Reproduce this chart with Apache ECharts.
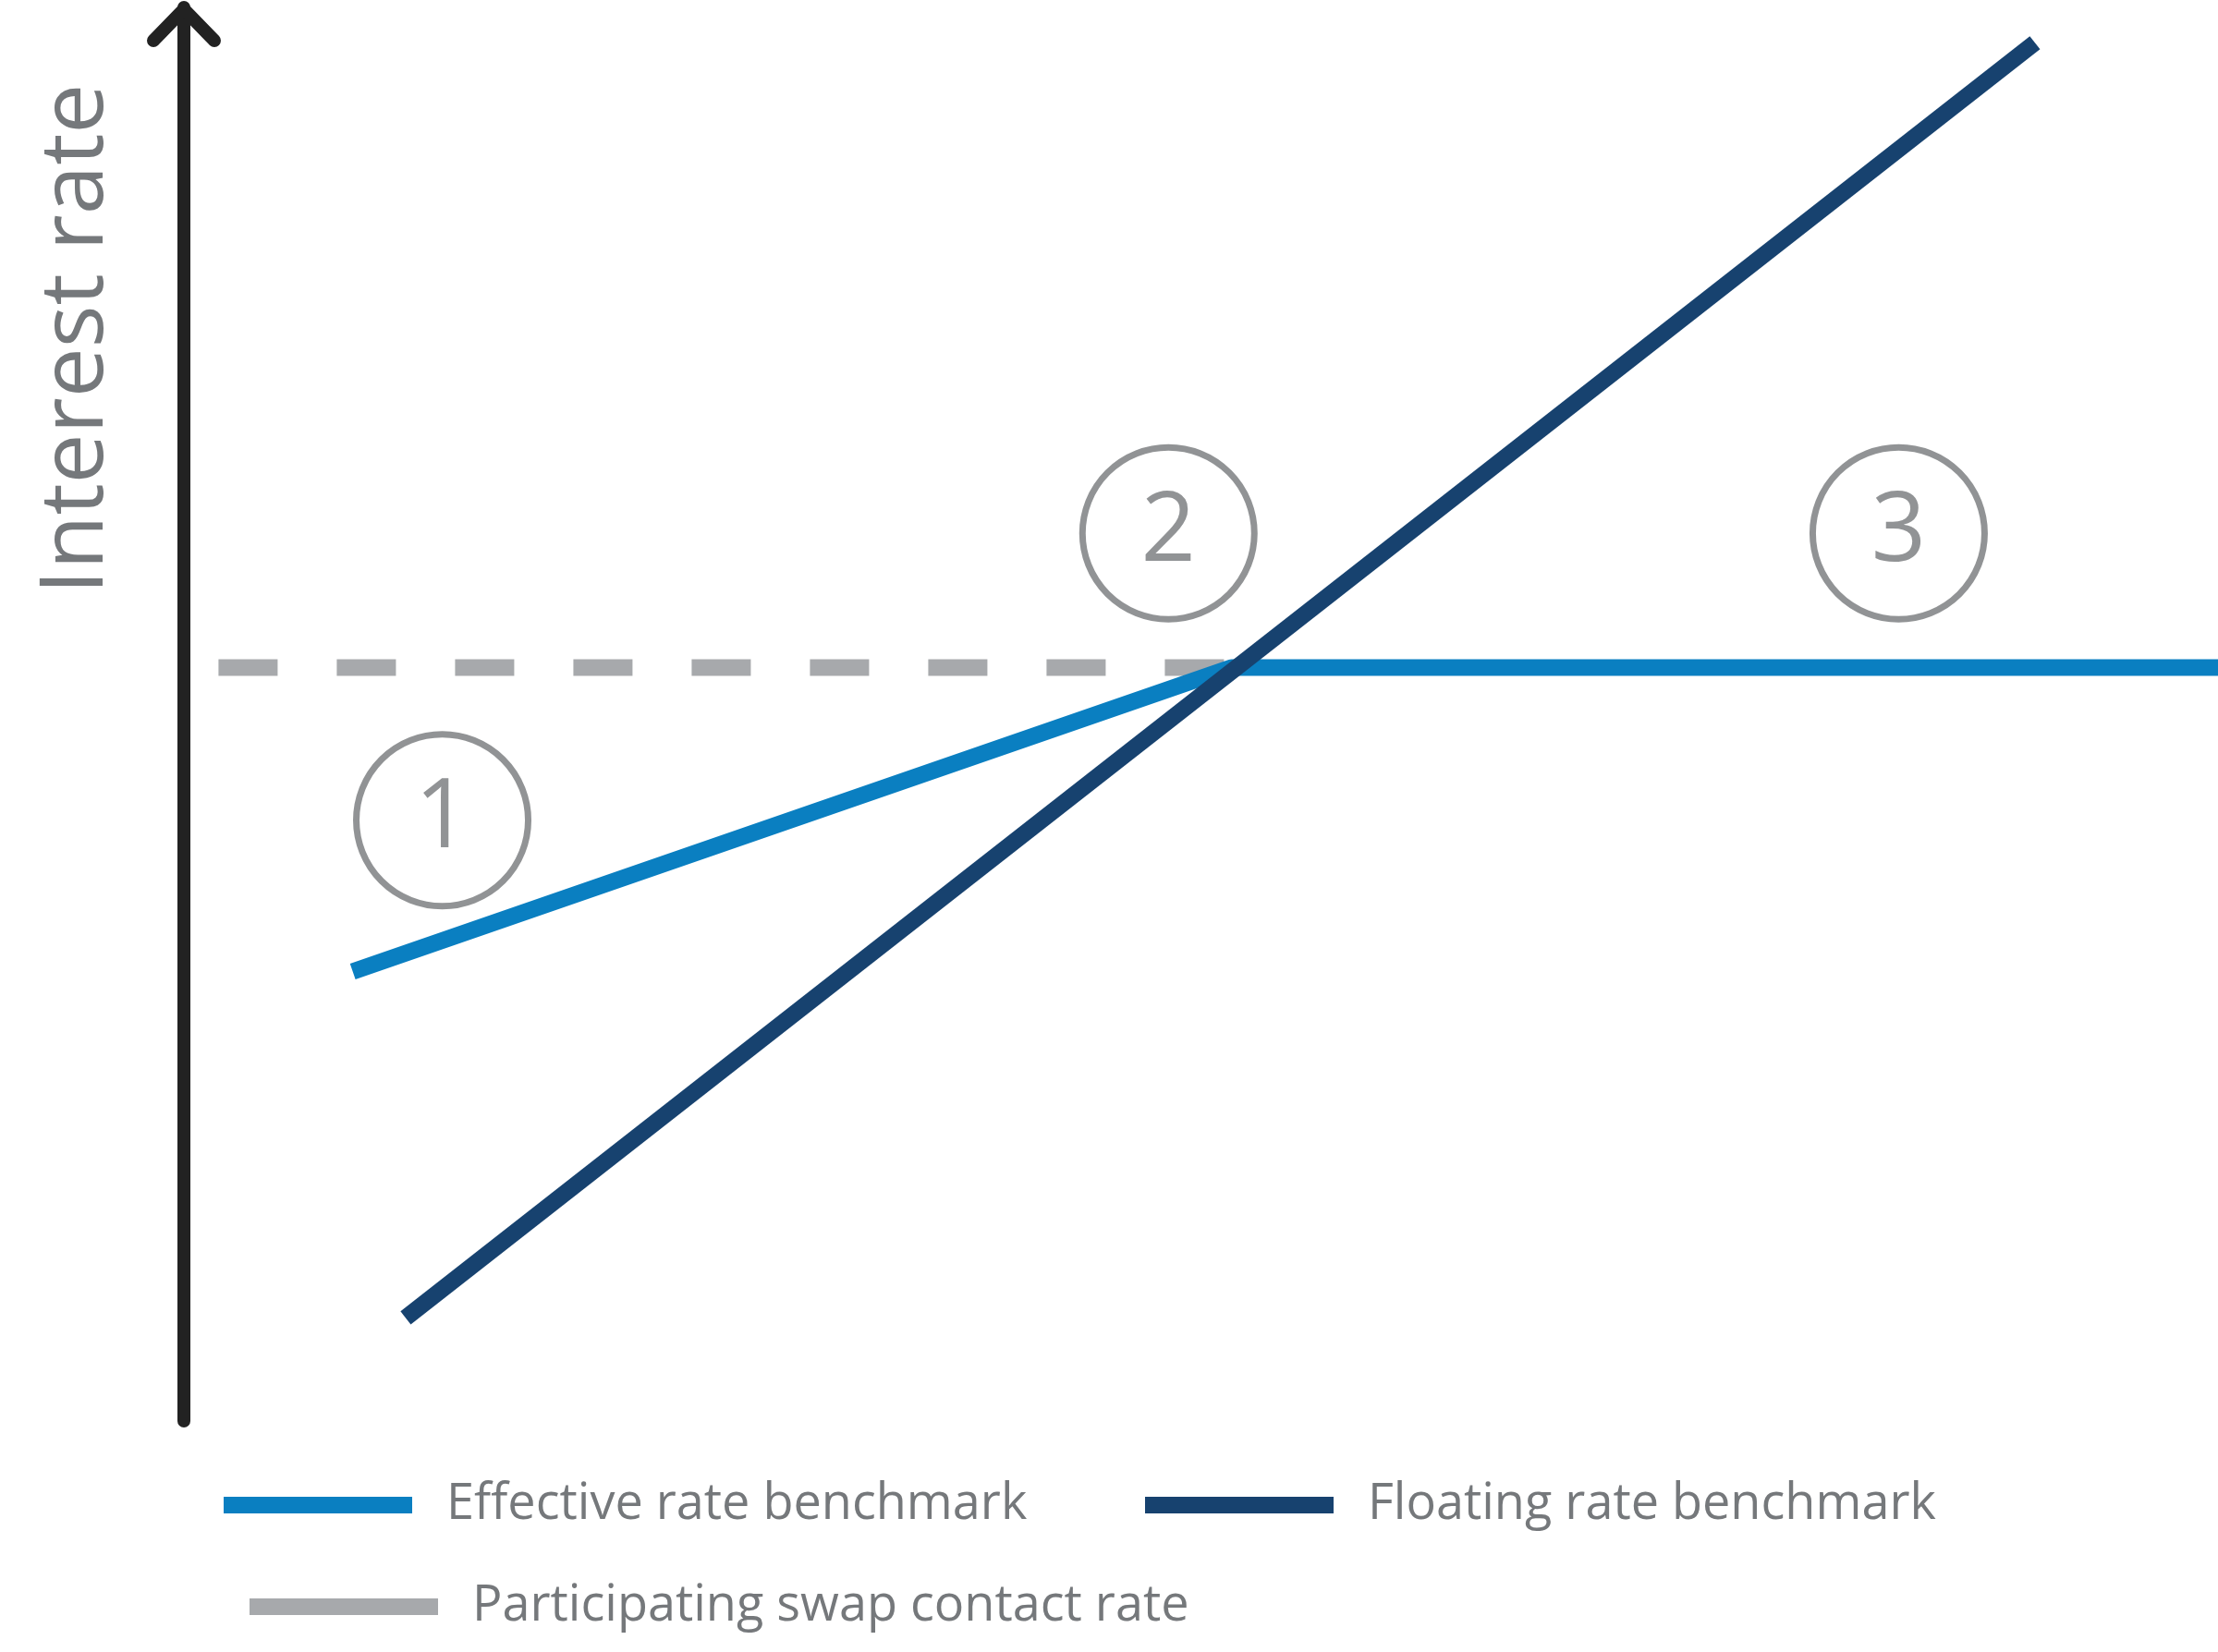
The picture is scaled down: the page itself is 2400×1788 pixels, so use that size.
<!DOCTYPE html>
<html>
<head>
<meta charset="UTF-8">
<title>Interest rate</title>
<script src="https://cdn.jsdelivr.net/npm/echarts@6/dist/echarts.min.js"></script>
<style>html,body{margin:0;padding:0;background:#fff}#chart{width:2400px;height:1788px}</style>
</head>
<body>
<div id="chart"></div>
<script>
// plot units: x 0..100, y 0..100
var effectiveRate = [[8.3, 31.8], [51.5, 53.3], [100, 53.3]];
var floatingRate = [[10.9, 7.3], [91, 97.5]];
var swapRate = [[1.7, 53.3], [51.5, 53.3]];
var markers = [[12.7, 42.5, '1'], [48.4, 62.8, '2'], [84.3, 62.8, '3']];
var names = ['Effective rate benchmark', 'Floating rate benchmark', 'Participating swap contact rate'];

var grey = '#75787b';
var font = '"Open Sans", "Noto Sans", sans-serif';

function legendAt(name, left, top) {
    return {
        data: [name], left: left, top: top, icon: 'rect',
        itemWidth: 204, itemHeight: 18, selectedMode: false,
        textStyle: { fontSize: 54, color: grey, fontFamily: font, padding: [0, 0, 0, 32] }
    };
}

var option = {
    animation: false,
    grid: { left: 199, right: 0, top: 8, bottom: 250 },
    xAxis: { type: 'value', min: 0, max: 100, show: false },
    yAxis: {
        type: 'value', min: 0, max: 100,
        splitLine: { show: false }, axisTick: { show: false }, axisLabel: { show: false },
        axisLine: { show: true, lineStyle: { color: '#222', width: 14 } }
    },
    legend: [
        legendAt(names[0], 237, 1597),
        legendAt(names[1], 1234, 1597),
        legendAt(names[2], 265, 1707)
    ],
    graphic: [
        { type: 'polyline', shape: { points: [[166, 44], [199, 10], [232, 44]] },
          style: { stroke: '#222', lineWidth: 14, fill: null, lineCap: 'round', lineJoin: 'round' }, z: 10 },
        { type: 'text', x: 84, y: 367, rotation: Math.PI / 2,
          style: { text: 'Interest rate', fontSize: 96, fill: grey, fontFamily: font,
                   textAlign: 'center', textVerticalAlign: 'middle' } }
    ],
    series: [
        { name: names[2], type: 'line', data: swapRate, symbol: 'none',
          itemStyle: { color: '#a7a9ac' },
          lineStyle: { color: '#a7a9ac', width: 18, type: [64, 64] } },
        { name: names[0], type: 'line', data: effectiveRate, symbol: 'none',
          itemStyle: { color: '#0a7fc1' }, lineStyle: { color: '#0a7fc1', width: 18 } },
        { name: names[1], type: 'line', data: floatingRate, symbol: 'none',
          itemStyle: { color: '#17426f' }, lineStyle: { color: '#17426f', width: 18 } },
        { type: 'scatter', data: markers, symbol: 'circle', symbolSize: 186, z: 5,
          itemStyle: { color: 'rgba(255,255,255,0)', borderColor: grey, borderWidth: 7 },
          label: { show: true, position: 'inside', formatter: function (p) { return p.value[2]; },
                   fontSize: 104, color: grey, fontFamily: font } }
    ]
};
echarts.init(document.getElementById('chart')).setOption(option);
</script>
</body>
</html>
